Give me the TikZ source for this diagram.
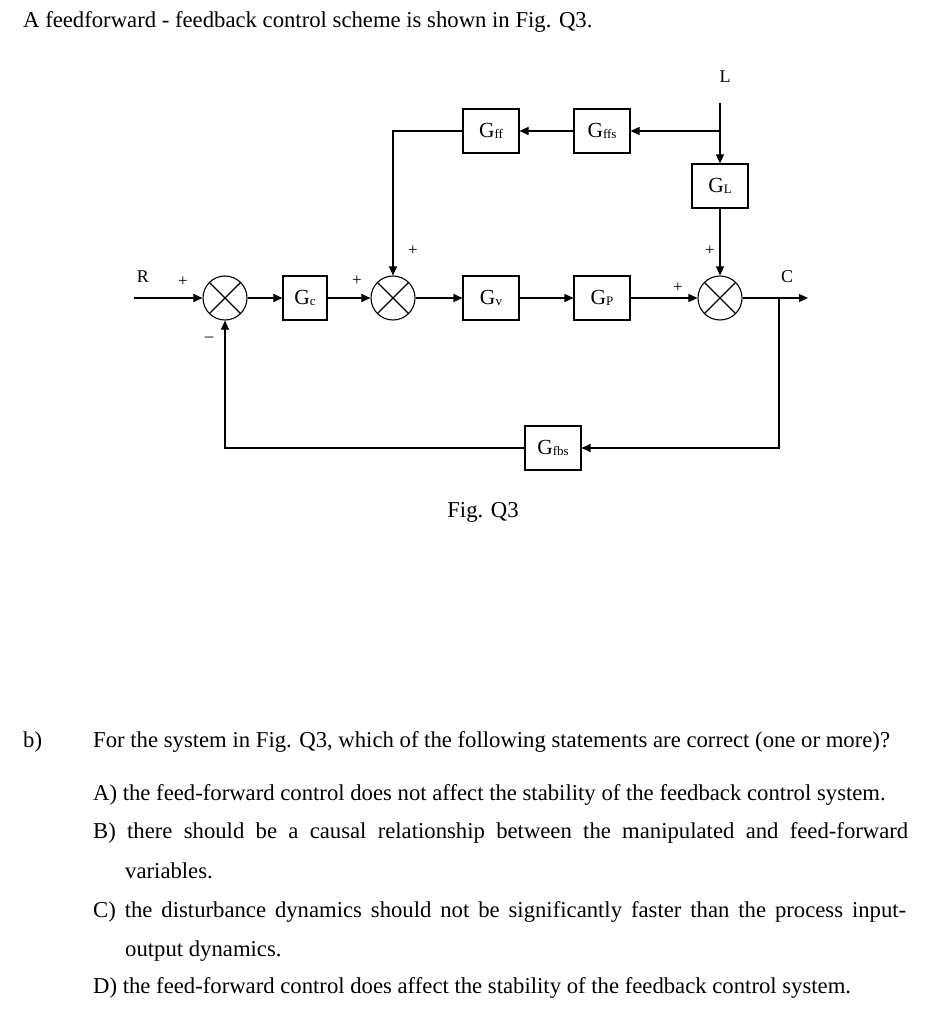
\documentclass[tikz,border=0pt]{standalone}
\usepackage{fontspec}
\setmainfont{Liberation Serif}
\usepackage{tikz}
\usetikzlibrary{arrows.meta, positioning}

\tikzset{
  blk/.style={rectangle, draw, line width=1.1pt, minimum width=56pt, minimum height=44pt, inner sep=0pt, font=\fontsize{21.5}{21.5}\selectfont},
  sumjn/.style={circle, draw, line width=1.1pt, minimum size=44pt, inner sep=0pt,
    path picture={\draw[line width=1.1pt] (path picture bounding box.north west) -- (path picture bounding box.south east)
      (path picture bounding box.north east) -- (path picture bounding box.south west);}},
  sgn/.style={font=\fontsize{17}{17}\selectfont, inner sep=0pt},
  lbl/.style={anchor=base, font=\fontsize{18}{18}\selectfont, inner sep=0pt},
  txt/.style={anchor=base west, inner sep=0pt, font=\fontsize{22.7}{27}\selectfont},
  sig/.style={-{Triangle[length=9pt,width=8pt]}, line width=1.1pt},
}
\newcommand{\gsub}[1]{G\raisebox{-1.5pt}{\fontsize{13}{13}\selectfont #1}}

\begin{document}
\begin{tikzpicture}[x=1pt, y=-1pt]
  \fill[white] (0,0) rectangle (948,1024);
  \useasboundingbox (0,0) rectangle (948,1024);

  \node[txt] (title) at (23,28) {A feedforward - feedback control scheme is shown in Fig. Q3.};

  % forward path
  \coordinate (Rin) at (134,298);
  \node[sumjn] (J1) at (225,298) {};
  \node[blk, minimum width=44pt] (Gc) at (305,298) {\gsub{c}};
  \node[sumjn] (J2) at (393,298) {};
  \node[blk] (Gv) at (491,298) {\gsub{v}};
  \node[blk] (Gp) at (602,298) {\gsub{P}};
  \node[sumjn] (J3) at (720,298) {};
  \coordinate (Cbr) at (779,298);
  \coordinate (Cout) at (808,298);

  % feedforward path
  \coordinate (Lin) at (720,103);
  \coordinate (Lbr) at (720,131);
  \node[blk] (GL) at (720,186) {\gsub{L}};
  \node[blk] (Gffs) at (602,131) {\gsub{ffs}};
  \node[blk] (Gff) at (491,131) {\gsub{ff}};

  % feedback path
  \node[blk] (Gfbs) at (553,448) {\gsub{fbs}};

  \draw[sig] (Rin) -- (J1);
  \draw[sig] (J1) -- (Gc);
  \draw[sig] (Gc) -- (J2);
  \draw[sig] (J2) -- (Gv);
  \draw[sig] (Gv) -- (Gp);
  \draw[sig] (Gp) -- (J3);
  \draw[sig] (J3) -- (Cout);
  \draw[line width=1.1pt] (Lin) -- (Lbr);
  \draw[sig] (Lbr) -- (GL);
  \draw[sig] (Lbr) -- (Gffs);
  \draw[sig] (Gffs) -- (Gff);
  \draw[sig] (Gff) -| (J2);
  \draw[sig] (GL) -- (J3);
  \draw[sig] (Cbr) |- (Gfbs);
  \draw[sig] (Gfbs) -| (J1);

  % signals and signs
  \node[lbl] (Rlab) at (143,282) {R};
  \node[lbl] (Llab) at (725,83) {L};
  \node[lbl] (Clab) at (787,282) {C};
  \node[sgn] (p1) at (183,282) {+};
  \node[sgn] (m1) at (209,339) {–};
  \node[sgn] (p2) at (357,281) {+};
  \node[sgn] (p3) at (413,251) {+};
  \node[sgn] (p4) at (710,251) {+};
  \node[sgn] (p5) at (678,288) {+};

  \node[anchor=base, inner sep=0pt, font=\fontsize{22.7}{27}\selectfont] (figcap) at (483,517) {Fig. Q3};

  % question
  \node[txt] (qb) at (23,747) {b)};
  \node[txt] (qstem) at (93,747) {For the system in Fig. Q3, which of the following statements are correct (one or more)?};
  \node[txt] (optA) at (93,800) {A) the feed-forward control does not affect the stability of the feedback control system.};
  \node[txt] (optB) at (93,838) {\makebox[815pt][s]{B) there should be a causal relationship between the manipulated and feed-forward}};
  \node[txt] (optBb) at (125,878) {variables.};
  \node[txt] (optC) at (93,917) {\makebox[813pt][s]{C) the disturbance dynamics should not be significantly faster than the process input-}};
  \node[txt] (optCc) at (125,956) {output dynamics.};
  \node[txt] (optD) at (93,993) {D) the feed-forward control does affect the stability of the feedback control system.};
\end{tikzpicture}
\end{document}
